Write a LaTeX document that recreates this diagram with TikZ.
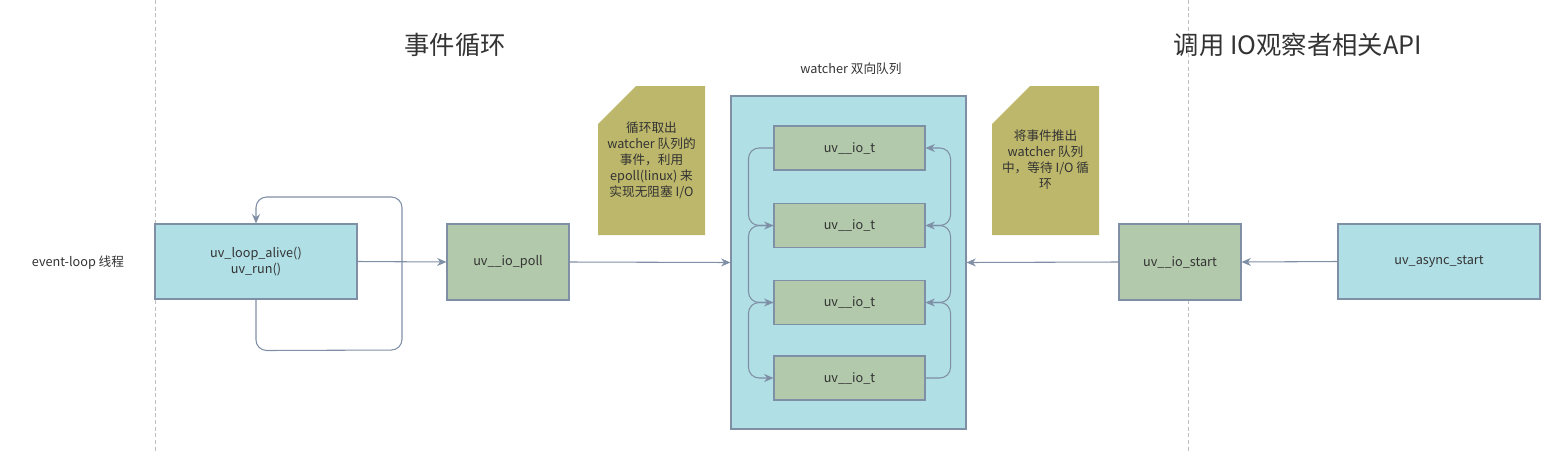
\documentclass[tikz,border=0pt]{standalone}
\usepackage{fontspec}
\setmainfont{Noto Sans CJK SC}
\usetikzlibrary{arrows.meta}
\definecolor{ln}{HTML}{7F8FA6}
\definecolor{bl}{HTML}{B0DFE5}
\definecolor{gr}{HTML}{B2C9AB}
\definecolor{nt}{HTML}{BDB76B}
\definecolor{tx}{HTML}{333333}
\begin{document}
\begin{tikzpicture}[x=0.75pt,y=-0.75pt,
  every node/.style={text=tx,font=\fontsize{9.5}{12}\selectfont},
  box/.style={draw=ln,line width=0.8pt,inner sep=0pt,align=center},
  conn/.style={draw=ln,line width=0.8pt,-{Stealth[length=7pt,width=6pt]},rounded corners=8pt},
  title/.style={font=\fontsize{19}{22}\selectfont}]
\useasboundingbox (0,0) rectangle (1568,451);
\draw[densely dashed,gray!50,line width=0.6pt] (155,0) -- (155,451) (1188,0) -- (1188,451);
\node[title] (t1) at (455,45) {事件循环};
\node[title] (t2) at (1298,45) {调用 IO观察者相关API};
\node (el) at (78,263) {event-loop 线程};
\node[box,fill=bl,minimum width=202*0.75pt,minimum height=75*0.75pt] (loop) at (256,261.5) {uv\_loop\_alive()\\uv\_run()};
\node[box,fill=gr,minimum width=122*0.75pt,minimum height=76*0.75pt] (poll) at (508,262) {uv\_\_io\_poll};
\node[box,fill=bl,minimum width=235*0.75pt,minimum height=333*0.75pt] (q) at (848.5,262.5) {};
\node (ql) at (851,69) {watcher 双向队列};
\foreach \i/\y in {1/148,2/225.5,3/302.5,4/378}
  \node[box,fill=gr,minimum width=151*0.75pt,minimum height=44*0.75pt] (io\i) at (849.5,\y) {uv\_\_io\_t};
\node[box,fill=gr,minimum width=122*0.75pt,minimum height=76*0.75pt] (st) at (1180,262) {uv\_\_io\_start};
\node[box,fill=bl,minimum width=202*0.75pt,minimum height=75*0.75pt] (as) at (1439,261.5) {uv\_async\_start};
% notes
\fill[nt] (636,86) -- (705,86) -- (705,235) -- (598,235) -- (598,124) -- cycle;
\node[align=center] (n1) at (651.5,160) {循环取出\\watcher 队列的\\事件，利用\\epoll(linux) 来\\实现无阻塞 I/O};
\fill[nt] (1030,86) -- (1099,86) -- (1099,235) -- (992,235) -- (992,124) -- cycle;
\node[align=center] (n2) at (1045.5,160) {将事件推出\\watcher 队列\\中，等待 I/O 循\\环};
% connectors
\draw[conn] (loop.south) -- ++(0,51) -- (402,350) -- (402,197) -- (256,197) -- (loop.north);
\draw[conn] (loop.east) -- (poll.west);
\draw[conn] (poll.east) -- (q.west);
\draw[conn] (st.west) -- (q.east);
\draw[conn] (as.west) -- (st.east);
\foreach \a/\b in {1/2,2/3,3/4}{
  \draw[conn] (io\a.west) -- ++(-25,0) |- (io\b.west);
  \draw[conn] (io\b.east) -- ++(25,0) |- (io\a.east);
}
\end{tikzpicture}
\end{document}
